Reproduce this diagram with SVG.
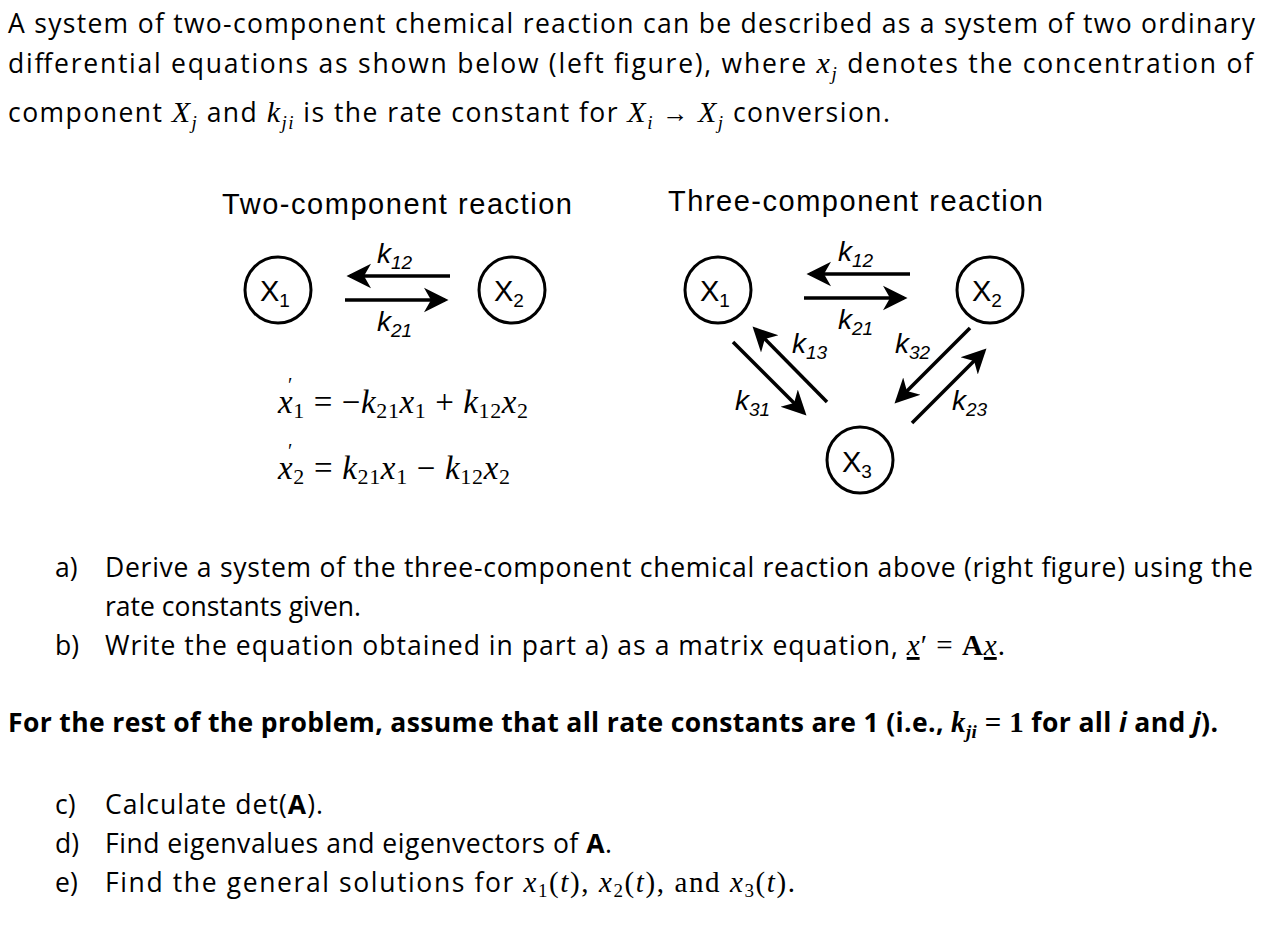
<svg xmlns="http://www.w3.org/2000/svg" width="1282" height="927" viewBox="0 0 1282 927">
<style>
.t{font-family:"Open Sans","Liberation Sans",sans-serif;font-size:26.5px;fill:#000}
.m{font-family:"Liberation Serif",serif;font-style:italic;font-size:30px}
.h{font-family:"Liberation Sans",Arial,sans-serif;font-size:29px}
.k{font-family:"Liberation Sans",Arial,sans-serif;font-size:28px;font-style:italic}
.s{font-size:19px}
.n{fill:none;stroke:#000;stroke-width:3}
.a{stroke:#000;stroke-width:3.5;fill:none;marker-end:url(#ah)}
.eq{font-family:"Liberation Serif",serif;font-size:33px}
.ms{font-family:"Liberation Serif",serif}
.i{font-style:italic}
</style>
<defs><marker id="ah" markerWidth="8" markerHeight="8" refX="6" refY="4" orient="auto" markerUnits="strokeWidth"><path d="M0,0.5 L7,4 L0,7.5 L2,4 Z" fill="#000"/></marker></defs>
<rect width="1282" height="927" fill="#fff"/>
<text class="t" x="8" y="33" textLength="1247" lengthAdjust="spacing">A system of two-component chemical reaction can be described as a system of two ordinary</text>
<text class="t" x="8" y="73" textLength="1245" lengthAdjust="spacing">differential equations as shown below (left figure), where <tspan class="m">x</tspan><tspan class="m s" dy="7">j</tspan><tspan dy="-7"> denotes the concentration of</tspan></text>
<text class="t" x="8" y="122" textLength="882" lengthAdjust="spacing">component <tspan class="m">X</tspan><tspan class="m s" dy="7">j</tspan><tspan dy="-7"> and </tspan><tspan class="m">k</tspan><tspan class="m s" dy="7">ji</tspan><tspan dy="-7"> is the rate constant for </tspan><tspan class="m">X</tspan><tspan class="m s" dy="7">i</tspan><tspan dy="-7" class="ms"> → </tspan><tspan class="m">X</tspan><tspan class="m s" dy="7">j</tspan><tspan dy="-7"> conversion.</tspan></text>
<text class="h" x="222" y="214" textLength="350">Two-component reaction</text>
<text class="h" x="668" y="211" textLength="375">Three-component reaction</text>
<g id="L1"><circle class="n" cx="278" cy="290" r="33"/><text class="h" x="260" y="301">X<tspan class="s" dy="6">1</tspan></text></g>
<g id="L2"><circle class="n" cx="512" cy="290" r="33"/><text class="h" x="494" y="301">X<tspan class="s" dy="6">2</tspan></text></g>
<g id="R1"><circle class="n" cx="718" cy="290" r="33"/><text class="h" x="700" y="301">X<tspan class="s" dy="6">1</tspan></text></g>
<g id="R2"><circle class="n" cx="990" cy="290" r="33"/><text class="h" x="972" y="301">X<tspan class="s" dy="6">2</tspan></text></g>
<g id="R3"><circle class="n" cx="860" cy="460" r="33"/><text class="h" x="842" y="472">X<tspan class="s" dy="6">3</tspan></text></g>
<g id="connectors">
<line class="a" x1="450" y1="276" x2="350" y2="276"/>
<line class="a" x1="345" y1="300" x2="445" y2="300"/>
<line class="a" x1="910" y1="274" x2="810" y2="274"/>
<line class="a" x1="804" y1="298" x2="904" y2="298"/>
<line class="a" x1="733" y1="342" x2="804" y2="413"/>
<line class="a" x1="827" y1="402" x2="755" y2="329"/>
<line class="a" x1="970" y1="328" x2="897" y2="401"/>
<line class="a" x1="912" y1="423" x2="984" y2="351"/>
</g>
<g class="k">
<text x="377" y="263">k<tspan class="s" dy="6">12</tspan></text>
<text x="377" y="331">k<tspan class="s" dy="6">21</tspan></text>
<text x="838" y="261">k<tspan class="s" dy="6">12</tspan></text>
<text x="838" y="329">k<tspan class="s" dy="6">21</tspan></text>
<text x="792" y="353">k<tspan class="s" dy="6">13</tspan></text>
<text x="895" y="353">k<tspan class="s" dy="6">32</tspan></text>
<text x="735" y="410">k<tspan class="s" dy="6">31</tspan></text>
<text x="952" y="410">k<tspan class="s" dy="6">23</tspan></text>
</g>
<g class="eq">
<text x="288" y="392" font-size="20">′</text>
<text x="288" y="458" font-size="20">′</text>
<text x="278" y="413" textLength="250" lengthAdjust="spacing"><tspan class="i">x</tspan><tspan font-size="22" dy="5">1</tspan><tspan dy="-5"> = −</tspan><tspan class="i">k</tspan><tspan font-size="22" dy="5">21</tspan><tspan class="i" dy="-5">x</tspan><tspan font-size="22" dy="5">1</tspan><tspan dy="-5"> + </tspan><tspan class="i">k</tspan><tspan font-size="22" dy="5">12</tspan><tspan class="i" dy="-5">x</tspan><tspan font-size="22" dy="5">2</tspan></text>
<text x="278" y="479" textLength="232" lengthAdjust="spacing"><tspan class="i">x</tspan><tspan font-size="22" dy="5">2</tspan><tspan dy="-5"> = </tspan><tspan class="i">k</tspan><tspan font-size="22" dy="5">21</tspan><tspan class="i" dy="-5">x</tspan><tspan font-size="22" dy="5">1</tspan><tspan dy="-5"> − </tspan><tspan class="i">k</tspan><tspan font-size="22" dy="5">12</tspan><tspan class="i" dy="-5">x</tspan><tspan font-size="22" dy="5">2</tspan></text>
</g>
<text class="t" x="55" y="577">a)</text>
<text class="t" x="105" y="577" textLength="1148" lengthAdjust="spacing">Derive a system of the three-component chemical reaction above (right figure) using the</text>
<text class="t" x="105" y="616">rate constants given.</text>
<text class="t" x="55" y="655">b)</text>
<text class="t" x="105" y="655" textLength="900" lengthAdjust="spacing">Write the equation obtained in part a) as a matrix equation, <tspan class="ms i" font-size="29" text-decoration="underline">x</tspan><tspan class="ms" font-size="29">′ = <tspan font-weight="bold">A</tspan><tspan class="i" text-decoration="underline">x</tspan>.</tspan></text>
<text class="t" x="8" y="732" font-weight="bold" textLength="1210" lengthAdjust="spacing">For the rest of the problem, assume that all rate constants are 1 (i.e., <tspan class="ms i" font-size="29">k</tspan><tspan class="ms i" font-size="19" dy="6">ji</tspan><tspan dy="-6" class="ms" font-size="29"> = 1</tspan> for all <tspan class="i">i</tspan> and <tspan class="i">j</tspan>).</text>
<text class="t" x="55" y="814">c)</text><text class="t" x="105" y="814" textLength="218" lengthAdjust="spacing">Calculate det(<tspan font-weight="bold">A</tspan>).</text>
<text class="t" x="55" y="853">d)</text><text class="t" x="105" y="853" textLength="507" lengthAdjust="spacing">Find eigenvalues and eigenvectors of <tspan font-weight="bold">A</tspan>.</text>
<text class="t" x="55" y="892">e)</text><text class="t" x="105" y="892" textLength="690" lengthAdjust="spacing">Find the general solutions for <tspan class="ms i" font-size="29">x</tspan><tspan class="ms" font-size="19" dy="5">1</tspan><tspan class="ms" font-size="29" dy="-5">(<tspan class="i">t</tspan>), <tspan class="i">x</tspan></tspan><tspan class="ms" font-size="19" dy="5">2</tspan><tspan class="ms" font-size="29" dy="-5">(<tspan class="i">t</tspan>), and <tspan class="i">x</tspan></tspan><tspan class="ms" font-size="19" dy="5">3</tspan><tspan class="ms" font-size="29" dy="-5">(<tspan class="i">t</tspan>).</tspan></text>
</svg>
